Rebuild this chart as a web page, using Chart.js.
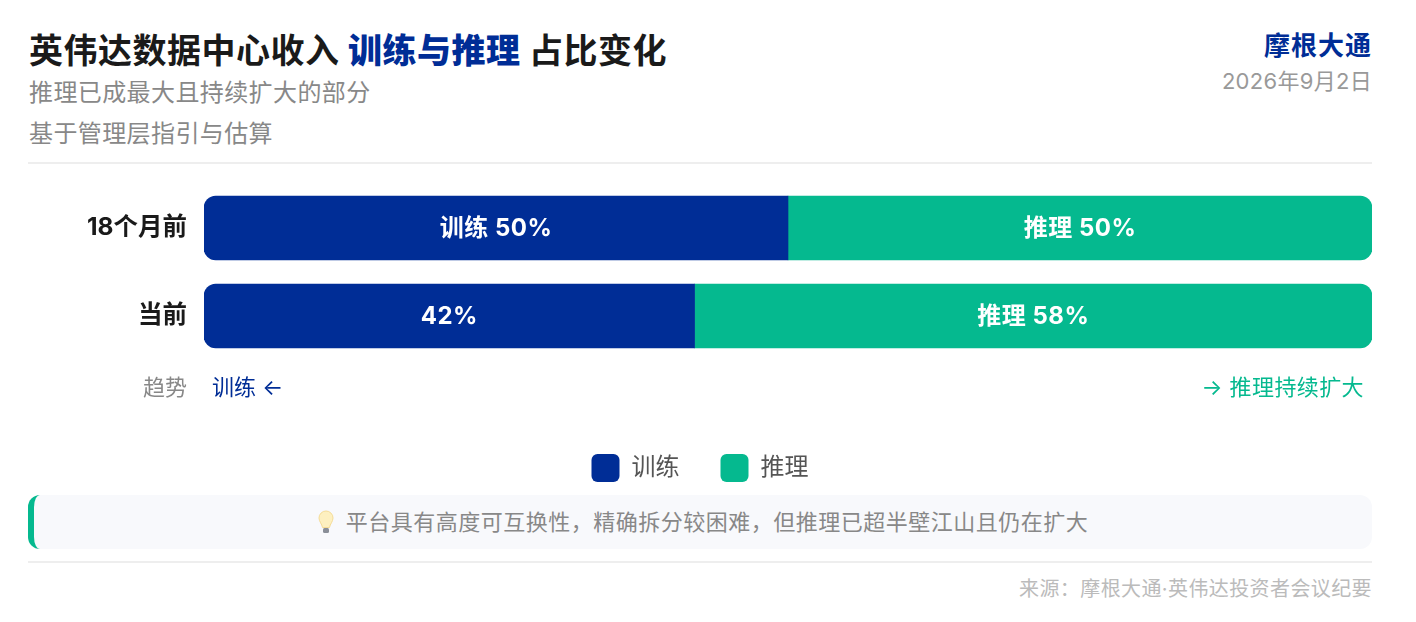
<!DOCTYPE html>
<html lang="zh">
<head>
<meta charset="utf-8">
<title>英伟达数据中心收入 训练与推理 占比变化</title>
<script src="https://cdn.jsdelivr.net/npm/chart.js@4"></script>
<style>
  html, body { margin: 0; padding: 0; background: #fff; }
  body { width: 1416px; height: 622px; position: relative; overflow: hidden;
    font-family: Inter, "Noto Sans CJK SC", sans-serif; }
  .abs { position: absolute; white-space: nowrap; line-height: 1; }
  #title { left: 29px; top: 34px; font-size: 34px; font-weight: 700; color: #1a1a1a; letter-spacing: .5px; }
  #title b { color: #002d96; }
  #sub1 { left: 29px; top: 81px; font-size: 24px; color: #888; letter-spacing: .4px; }
  #sub2 { left: 29px; top: 122px; font-size: 24px; color: #888; letter-spacing: .4px; }
  #brand { right: 44px; top: 33px; font-size: 26px; font-weight: 700; color: #002d96; letter-spacing: 1px; }
  #date { right: 44px; top: 70px; font-size: 22px; color: #999; letter-spacing: .3px; }
  .rule { position: absolute; left: 28px; width: 1344px; height: 2px; background: #eee; }
  #trendLabel { right: 1229px; top: 376px; font-size: 22px; color: #888; }
  #trendLeft { left: 212px; top: 376px; font-size: 22px; color: #002d96; }
  #trendRight { right: 52px; top: 376px; font-size: 22px; color: #05b98f; letter-spacing: .4px; }
  #note { position: absolute; left: 28px; top: 495px; width: 1344px; height: 54px; box-sizing: border-box;
    background: #f8f9fc; border-left: 6px solid #05b98f; border-radius: 12px; padding-bottom: 5px;
    font-size: 22px; color: #888; letter-spacing: .5px; display: flex; align-items: center; justify-content: center; }
  #note svg { margin-right: 12px; margin-top: 5px; }
  #source { right: 44px; top: 579px; font-size: 20px; color: #bbb; letter-spacing: .4px; }
  #chart { position: absolute; left: 0; top: 154px; }
</style>
</head>
<body>
<div class="abs" id="title">英伟达数据中心收入 <b>训练与推理</b> 占比变化</div>
<div class="abs" id="sub1">推理已成最大且持续扩大的部分</div>
<div class="abs" id="sub2">基于管理层指引与估算</div>
<div class="abs" id="brand">摩根大通</div>
<div class="abs" id="date">2026年9月2日</div>
<div class="rule" style="top:162px"></div>

<canvas id="chart" width="1400" height="338"></canvas>

<div class="abs" id="trendLabel">趋势</div>
<div class="abs" id="trendLeft">训练 ←</div>
<div class="abs" id="trendRight">→ 推理持续扩大</div>

<div id="note">
  <svg width="16" height="24" viewBox="0 0 16 24"><path d="M8 1a7 7 0 0 0-7 7c0 3.500 3 6 3.500 9.500h7C12 14 15 11.500 15 8a7 7 0 0 0-7-7z" fill="#fdf0c0" stroke="#f5dc96"/><rect x="5" y="18" width="6" height="5" rx="1.500" fill="#8a8f98"/></svg>
  <span>平台具有高度可互换性，精确拆分较困难，但推理已超半壁江山且仍在扩大</span>
</div>
<div class="rule" style="top:561px"></div>
<div class="abs" id="source">来源：摩根大通·英伟达投资者会议纪要</div>

<script>
const categories = ["18个月前", "当前"];
const trainValues = [50, 42];
const inferValues = [50, 58];
const trainLabels = ["训练 50%", "42%"];
const inferLabels = ["推理 50%", "推理 58%"];

const navy = "#002d96";
const green = "#05b98f";
const fontFamily = 'Inter, "Noto Sans CJK SC", sans-serif';

Chart.defaults.font.family = fontFamily;

// draws the white text in the middle of each segment
const barText = {
  id: "barText",
  afterDatasetsDraw(chart) {
    const ctx = chart.ctx;
    const texts = [trainLabels, inferLabels];
    ctx.save();
    ctx.fillStyle = "#fff";
    ctx.font = "700 24px " + fontFamily;
    ctx.letterSpacing = "0.5px";
    ctx.textAlign = "center";
    ctx.textBaseline = "middle";
    chart.data.datasets.forEach((ds, i) => {
      chart.getDatasetMeta(i).data.forEach((bar, j) => {
        ctx.fillText(texts[i][j], (bar.base + bar.x) / 2, bar.y + 1);
      });
    });
    ctx.restore();
  },
};

new Chart(document.getElementById("chart"), {
  type: "bar",
  data: {
    labels: categories,
    datasets: [
      {
        label: "训练",
        data: trainValues,
        backgroundColor: navy,
        borderWidth: 0,
        borderSkipped: false,
        borderRadius: { topLeft: 12, bottomLeft: 12, topRight: 0, bottomRight: 0 },
        barThickness: 64,
      },
      {
        label: "推理",
        data: inferValues,
        backgroundColor: green,
        borderWidth: 0,
        borderSkipped: false,
        borderRadius: { topLeft: 0, bottomLeft: 0, topRight: 12, bottomRight: 12 },
        barThickness: 64,
      },
    ],
  },
  options: {
    indexAxis: "y",
    responsive: false,
    animation: false,
    layout: { padding: { top: 30, right: 28, bottom: 0, left: 28 } },
    scales: {
      x: {
        stacked: true,
        min: 0,
        max: 100,
        grid: { display: false },
        border: { display: false },
        ticks: { display: false },
        afterFit(scale) { scale.height = 53; },
      },
      y: {
        stacked: true,
        grid: { display: false },
        border: { display: false },
        ticks: {
          color: "#1a1a1a",
          padding: 9,
          font: { size: 24.5, weight: "700" },
        },
        afterFit(scale) { scale.width = 176; },
      },
    },
    plugins: {
      tooltip: { enabled: false },
      legend: {
        position: "bottom",
        labels: {
          boxWidth: 28,
          boxHeight: 28,
          useBorderRadius: true,
          borderRadius: 6,
          padding: 41,
          color: "#555",
          font: { size: 24 },
        },
      },
    },
  },
  plugins: [barText],
});
</script>
</body>
</html>
